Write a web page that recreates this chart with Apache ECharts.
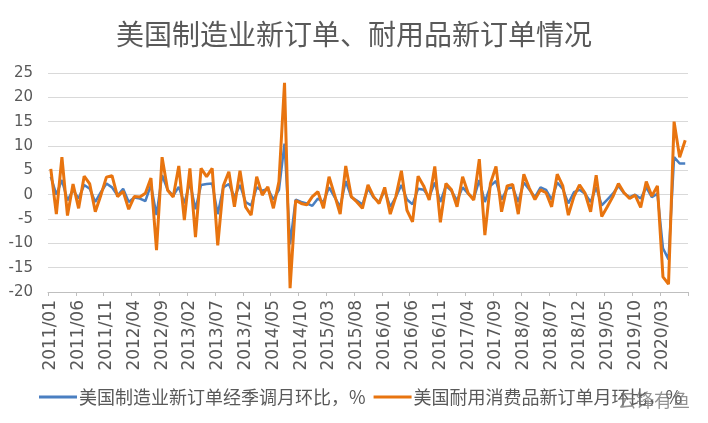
<!DOCTYPE html>
<html>
<head>
<meta charset="utf-8">
<script src="https://cdn.jsdelivr.net/npm/echarts@6/dist/echarts.min.js"></script>
<style>
  html, body { margin: 0; padding: 0; background: #fff; }
  #chart { width: 708px; height: 423px; }
</style>
</head>
<body>
<div id="chart"></div>
<script>
// 月份：2011/01 - 2020/07
const months = []
for (let y = 2011; y <= 2020; y++) {
  for (let m = 1; m <= 12; m++) {
    if (y === 2020 && m > 7) break
    months.push(y + '/' + (m < 10 ? '0' + m : m))
  }
}

// 美国制造业新订单经季调月环比，%
const mfgOrders = [
  3.7, 0.0, 3.0, -1.2, 1.0, -0.8, 2.0, 1.2, -1.5, 0.5, 2.3, 1.5,
  -0.2, 1.2, -1.5, -0.6, -0.8, -1.3, 2.0, -4.2, 4.0, 1.0, -0.2, 1.6,
  -1.8, 2.5, -3.0, 2.0, 2.2, 2.3, -4.0, 1.5, 2.2, -0.5, 2.0, -1.5,
  -2.2, 1.5, 0.8, 1.2, -1.0, 1.0, 10.5, -10.2, -1.0, -1.5, -1.8, -2.3,
  -0.8, -1.5, 1.5, -0.5, -2.5, 2.8, -0.5, -1.2, -2.0, 1.3, -0.6, -1.5,
  0.8, -2.5, -0.5, 2.0, -1.0, -2.0, 1.2, 1.0, -0.5, 2.5, -1.5, 1.8,
  0.8, -1.2, 1.5, 0.2, -0.8, 3.0, -1.5, 1.8, 2.8, -1.0, 1.2, 1.5,
  -1.5, 2.5, 1.0, -0.5, 1.5, 1.0, -1.0, 2.5, 1.2, -1.8, 0.5, 1.0,
  0.2, -1.5, 1.5, -2.2, -1.0, 0.2, 1.8, 0.3, -0.5, 0.0, -0.8, 1.5,
  -0.5, 0.2, -11.0, -13.3, 7.7, 6.4, 6.4
]

// 美国耐用消费品新订单月环比，%
const durableOrders = [
  5.3, -4.0, 7.7, -4.3, 2.2, -2.8, 3.8, 2.2, -3.5, -0.1, 3.6, 3.9,
  -0.4, 0.7, -3.0, -0.4, -0.5, 0.3, 3.4, -11.4, 7.7, 0.9, -0.5, 5.9,
  -5.2, 5.4, -8.7, 5.4, 3.7, 5.4, -10.4, 1.8, 4.7, -2.5, 4.9, -2.5,
  -4.2, 3.7, -0.1, 1.6, -2.8, 2.7, 23.0, -19.2, -1.2, -1.8, -2.1, -0.4,
  0.6, -2.8, 3.7, -0.1, -4.0, 5.9, -0.4, -1.5, -2.8, 2.0, -0.4, -1.8,
  1.5, -4.0, -0.4, 4.9, -3.2, -5.6, 3.8, 1.8, -1.1, 5.8, -5.7, 2.3,
  1.0, -2.5, 3.7, 0.3, -1.1, 7.3, -8.3, 2.3, 5.8, -3.5, 1.8, 2.1,
  -4.0, 4.2, 1.3, -1.0, 1.0, 0.4, -2.5, 4.2, 1.8, -4.2, -0.4, 2.0,
  0.3, -3.5, 4.0, -4.5, -2.5, -0.4, 2.3, 0.4, -0.8, -0.1, -2.6, 2.7,
  -0.3, 1.8, -16.9, -18.4, 15.0, 7.7, 11.2
]

const seriesNames = ['美国制造业新订单经季调月环比，%', '美国耐用消费品新订单月环比，%']

const textColor = '#595959'
const cjk = '"Noto Sans CJK SC", "Noto Sans", sans-serif'

let chart = echarts.init(document.getElementById('chart'))
chart.setOption({
  backgroundColor: '#fff',
  animation: false,
  title: {
    text: '美国制造业新订单、耐用品新订单情况',
    left: 'center',
    top: 15,
    textStyle: {
      fontFamily: cjk,
      fontSize: 28,
      fontWeight: 'normal',
      color: textColor,
    },
  },
  legend: {
    bottom: 12,
    left: 34,
    icon: 'rect',
    itemWidth: 38,
    itemHeight: 3,
    itemGap: 8,
    textStyle: {
      fontFamily: cjk,
      fontSize: 18,
      color: textColor,
      padding: [0, 0, 0, -3],
    },
    data: seriesNames,
  },
  grid: {
    left: 48,
    right: 20,
    top: 73,
    bottom: 131,
  },
  xAxis: [
    {
      type: 'category',
      data: months,
      boundaryGap: true,
      axisLine: { show: false },
      axisTick: { show: false },
      axisLabel: {
        interval: 4,
        rotate: 90,
        margin: 8,
        fontFamily: 'DejaVu Sans',
        fontSize: 17,
        color: textColor,
      },
    },
    {
      // 零轴线
      type: 'category',
      data: months,
      position: 'bottom',
      boundaryGap: true,
      axisLine: { show: true, onZero: true, lineStyle: { color: '#bfbfbf', width: 1 } },
      axisTick: { show: true, interval: 4, length: 4, lineStyle: { color: '#bfbfbf' } },
      axisLabel: { show: false },
      splitLine: { show: false },
    },
  ],
  yAxis: {
    type: 'value',
    min: -20,
    max: 25,
    interval: 5,
    axisLine: { show: false },
    axisTick: { show: false },
    axisLabel: {
      margin: 15,
      fontFamily: 'DejaVu Sans',
      fontSize: 15,
      color: textColor,
    },
    splitLine: { lineStyle: { color: '#d9d9d9', width: 1 } },
  },
  series: [
    {
      name: seriesNames[0],
      type: 'line',
      data: mfgOrders,
      showSymbol: false,
      symbol: 'none',
      color: '#4a7fc1',
      lineStyle: { width: 2.5, color: '#4a7fc1' },
      z: 2,
    },
    {
      name: seriesNames[1],
      type: 'line',
      data: durableOrders,
      showSymbol: false,
      symbol: 'none',
      color: '#e8740f',
      lineStyle: { width: 3, color: '#e8740f' },
      z: 3,
    },
  ],
  graphic: [
    {
      type: 'text',
      right: 18,
      bottom: 14,
      z: 100,
      style: {
        text: '云锋有鱼',
        fontFamily: cjk,
        fontSize: 18,
        fill: 'rgba(110,110,110,0.75)',
      },
    },
  ],
})
</script>
</body>
</html>
